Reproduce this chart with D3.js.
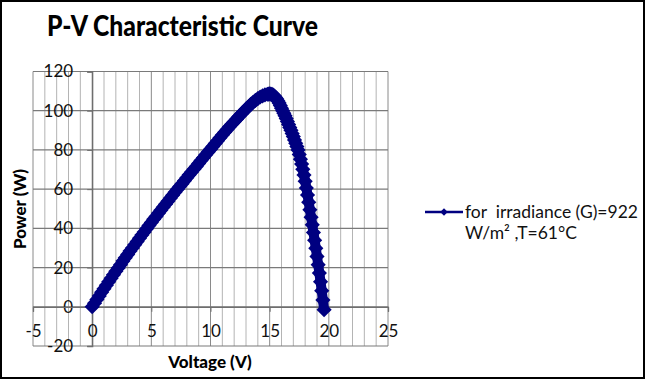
<!DOCTYPE html>
<html>
<head>
<meta charset="utf-8">
<script src="https://cdn.jsdelivr.net/npm/d3@7"></script>
<style>
  html, body { margin: 0; padding: 0; background: #fff; }
  svg { display: block; font-family: Lato, 'Open Sans', sans-serif; }
</style>
</head>
<body>
<div id="chart"></div>
<script>
// values
const voltage = [
  0, 0.2, 0.4, 0.6, 0.8, 1, 1.2, 1.4, 1.6, 1.8, 2, 2.2, 2.4, 2.6, 2.8, 3, 3.2, 3.4, 3.6, 3.8,
  4, 4.2, 4.4, 4.6, 4.8, 5, 5.2, 5.4, 5.6, 5.8, 6, 6.2, 6.4, 6.6, 6.8, 7, 7.2, 7.4, 7.6, 7.8,
  8, 8.2, 8.4, 8.6, 8.8, 9, 9.2, 9.4, 9.6, 9.8, 10, 10.2, 10.4, 10.6, 10.8, 11, 11.2, 11.4, 11.6, 11.8,
  12, 12.2, 12.4, 12.6, 12.8, 13, 13.2, 13.4, 13.6, 13.8, 14, 14.2, 14.4, 14.6, 14.8,
  14.9, 15, 15.1, 15.2, 15.3, 15.4, 15.5, 15.6, 15.7, 15.8, 15.9, 16, 16.1, 16.2, 16.3, 16.4,
  16.5, 16.6, 16.7, 16.8, 16.9, 17, 17.1, 17.2, 17.3, 17.4, 17.5, 17.6, 17.7, 17.8, 17.9, 18,
  18.1, 18.2, 18.3, 18.4, 18.5, 18.6, 18.7, 18.8, 18.9, 19, 19.1, 19.2, 19.3, 19.4, 19.5, 19.6
]
const power = [
  0, 1.8, 3.7, 5.5, 7.4, 9.2, 11.0, 12.8, 14.5, 16.3, 18.1, 19.8, 21.5, 23.3, 25.0, 26.7, 28.4, 30.0, 31.7, 33.3,
  35.0, 36.6, 38.2, 39.8, 41.4, 43.0, 44.6, 46.1, 47.7, 49.2, 50.8, 52.3, 53.8, 55.4, 56.9, 58.4, 59.9, 61.4, 62.8, 64.3,
  65.8, 67.3, 68.7, 70.2, 71.6, 73.1, 74.6, 76.0, 77.5, 78.9, 80.4, 81.8, 83.3, 84.7, 86.2, 87.6, 89.0, 90.4, 91.8, 93.1,
  94.4, 95.7, 97.0, 98.3, 99.6, 100.8, 102.0, 103.2, 104.3, 105.3, 106.2, 107.0, 107.6, 108.1, 108.4,
  108.5, 108.6, 108.5, 108.3, 108.0, 107.5, 106.8, 106.0, 105.0, 103.9, 102.6, 101.3, 100.0, 98.7, 97.4, 96.0,
  94.5, 93.0, 91.5, 90.0, 88.4, 86.8, 85.1, 83.4, 81.7, 80.0, 77.7, 75.3, 72.8, 70.1, 67.2, 64.0,
  60.6, 57.0, 53.3, 49.5, 45.7, 41.8, 37.9, 33.9, 29.8, 25.7, 21.5, 17.2, 12.8, 8.2, 3.4, -1.5
]
const xTicks = [-5, 0, 5, 10, 15, 20, 25]
const xMinor = d3.range(-5, 26, 1)
const yTicks = [-20, 0, 20, 40, 60, 80, 100, 120]

const chartTitle = 'P-V Characteristic Curve'
const xTitle = 'Voltage (V)'
const yTitle = 'Power (W)'
const legendLines = ['for  irradiance (G)=922', 'W/m\u00B2 ,T=61\u00B0C']

const width = 645
const height = 380
const plot = { left: 33, top: 71.5, right: 388, bottom: 346 }
const navy = '#000080'

const data = voltage.map((v, i) => ({ v, p: power[i] }))

const svg = d3.select('#chart').append('svg')
  .attr('width', width).attr('height', height)

// outer frame
svg.append('rect')
  .attr('x', 1).attr('y', 1).attr('width', width - 2).attr('height', 377)
  .attr('fill', '#fff').attr('stroke', '#000').attr('stroke-width', 2)

const x = d3.scaleLinear().domain([-5, 25]).range([plot.left, plot.right])
const y = d3.scaleLinear().domain([-20, 120]).range([plot.bottom, plot.top])

const grid = svg.append('g')
// minor vertical lines
grid.selectAll('line.minor')
  .data(xMinor.filter((d) => d % 5 !== 0))
  .join('line')
  .attr('class', 'minor')
  .attr('x1', (d) => x(d)).attr('x2', (d) => x(d))
  .attr('y1', plot.top).attr('y2', plot.bottom)
  .attr('stroke', '#b4b4b4').attr('stroke-width', 1)

grid.selectAll('line.majorx')
  .data(xTicks)
  .join('line')
  .attr('class', 'majorx')
  .attr('x1', (d) => x(d)).attr('x2', (d) => x(d))
  .attr('y1', plot.top).attr('y2', plot.bottom)
  .attr('stroke', '#8a8a8a').attr('stroke-width', 1)

grid.selectAll('line.majory')
  .data(yTicks)
  .join('line')
  .attr('class', 'majory')
  .attr('x1', plot.left).attr('x2', plot.right)
  .attr('y1', (d) => y(d)).attr('y2', (d) => y(d))
  .attr('stroke', '#7a7a7a').attr('stroke-width', 1.2)

// axes cross at zero
const yAxis = svg.append('g')
  .attr('transform', `translate(${x(0)},0)`)
  .call(d3.axisLeft(y).tickValues(yTicks).tickSize(5).tickPadding(14).tickFormat(d3.format('d')))
const xAxis = svg.append('g')
  .attr('transform', `translate(0,${y(0)})`)
  .call(d3.axisBottom(x).tickValues(xTicks).tickSize(5).tickPadding(13).tickFormat(d3.format('d')))

;[xAxis, yAxis].forEach((a) => {
  a.select('.domain').attr('stroke', '#6e6e6e').attr('stroke-width', 1.3)
  a.selectAll('.tick line').attr('stroke', '#6e6e6e')
  a.selectAll('.tick text')
    .attr('font-family', 'Lato, sans-serif')
    .attr('font-size', 17)
    .attr('fill', '#111')
})
xAxis.selectAll('.tick text').text((d) => d < 0 ? '-' + Math.abs(d) : d)
yAxis.selectAll('.tick text').text((d) => d < 0 ? '-' + Math.abs(d) : d)

// series
const line = d3.line().x((d) => x(d.v)).y((d) => y(d.p))
svg.append('path')
  .datum(data)
  .attr('fill', 'none')
  .attr('stroke', navy)
  .attr('stroke-width', 10)
  .attr('stroke-linejoin', 'round')
  .attr('d', line)

const diamond = d3.symbol().type(d3.symbolSquare).size(115)
svg.append('g').selectAll('path')
  .data(data)
  .join('path')
  .attr('d', diamond)
  .attr('transform', (d) => `translate(${x(d.v)},${y(d.p)}) rotate(45)`)
  .attr('fill', navy)

// titles
svg.append('text')
  .attr('x', 47).attr('y', 36)
  .attr('font-size', 29).attr('font-weight', 900)
  .attr('textLength', 271).attr('lengthAdjust', 'spacingAndGlyphs')
  .text(chartTitle)

svg.append('text')
  .attr('x', 210).attr('y', 368)
  .attr('text-anchor', 'middle')
  .attr('font-size', 17).attr('font-weight', 900)
  .text(xTitle)

svg.append('text')
  .attr('transform', 'translate(26,209) rotate(-90)')
  .attr('text-anchor', 'middle')
  .attr('font-size', 17).attr('font-weight', 900)
  .text(yTitle)

// legend
const legend = svg.append('g')
legend.append('line')
  .attr('x1', 425).attr('x2', 463).attr('y1', 212).attr('y2', 212)
  .attr('stroke', navy).attr('stroke-width', 2.5)
legend.append('path')
  .attr('d', d3.symbol().type(d3.symbolSquare).size(28))
  .attr('transform', 'translate(444,212) rotate(45)')
  .attr('fill', navy)
legend.selectAll('text')
  .data(legendLines)
  .join('text')
  .attr('x', 465)
  .attr('y', (d, i) => 218 + i * 21)
  .attr('font-size', 17.5)
  .attr('fill', '#111')
  .style('white-space', 'pre')
  .text((d) => d)
</script>
</body>
</html>
